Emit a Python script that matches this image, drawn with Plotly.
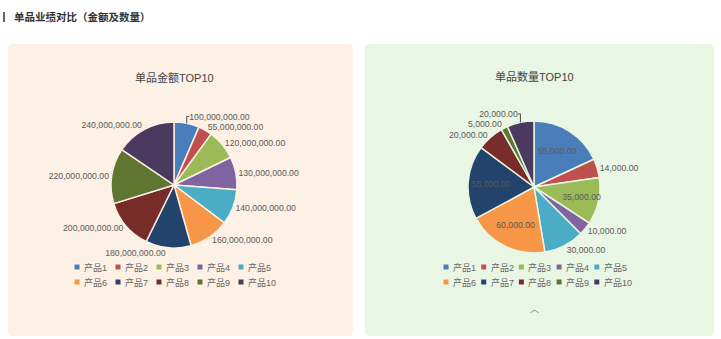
import plotly.graph_objects as go

# ---- data ----
products = ["产品1", "产品2", "产品3", "产品4", "产品5", "产品6", "产品7", "产品8", "产品9", "产品10"]
amount_values = [100000000, 55000000, 120000000, 130000000, 140000000,
                 160000000, 180000000, 200000000, 220000000, 240000000]
quantity_values = [55000, 14000, 35000, 10000, 30000, 60000, 55000, 20000, 5000, 20000]
quantity_textpos = ["inside", "outside", "inside", "outside", "outside",
                    "inside", "inside", "outside", "outside", "outside"]
colors = ["#4a7ebb", "#c0504d", "#9bbb59", "#8064a2", "#4bacc6",
          "#f79646", "#22436b", "#772c2a", "#5f7530", "#4a3a60"]

page_title = "单品业绩对比（金额及数量）"
left_title = "单品金额TOP10"
right_title = "单品数量TOP10"

W, H = 721, 339
LEFT_BG = "#fdf0e4"
RIGHT_BG = "#eaf6e4"
TXT = "#5a5a5a"
FONT = "Liberation Sans, Noto Sans CJK SC, sans-serif"
LBL = 8.7


def px(x):
    return x / W


def py(y):
    return 1 - y / H


def rounded_rect(x0, y0, x1, y1, r):
    return (f"M{px(x0 + r)},{py(y0)} L{px(x1 - r)},{py(y0)} "
            f"Q{px(x1)},{py(y0)} {px(x1)},{py(y0 + r)} "
            f"L{px(x1)},{py(y1 - r)} Q{px(x1)},{py(y1)} {px(x1 - r)},{py(y1)} "
            f"L{px(x0 + r)},{py(y1)} Q{px(x0)},{py(y1)} {px(x0)},{py(y1 - r)} "
            f"L{px(x0)},{py(y0 + r)} Q{px(x0)},{py(y0)} {px(x0 + r)},{py(y0)} Z")


fig = go.Figure()

fig.add_trace(go.Pie(
    labels=products, values=amount_values, sort=False, direction="clockwise",
    marker=dict(colors=colors, line=dict(color=LEFT_BG, width=1.5)),
    texttemplate="%{value:,.2f}", textposition="outside",
    textfont=dict(size=LBL, color=TXT, family=FONT),
    domain=dict(x=[px(111), px(237)], y=[py(248), py(122)]),
    showlegend=False, hoverinfo="label+value",
))

fig.add_trace(go.Pie(
    labels=products, values=quantity_values, sort=False, direction="clockwise",
    marker=dict(colors=colors, line=dict(color=RIGHT_BG, width=1.5)),
    texttemplate="%{value:,.2f}", textposition=quantity_textpos,
    insidetextorientation="horizontal",
    textfont=dict(size=LBL, color=TXT, family=FONT),
    insidetextfont=dict(size=LBL, color=TXT, family=FONT),
    outsidetextfont=dict(size=LBL, color=TXT, family=FONT),
    domain=dict(x=[px(468), px(600)], y=[py(253), py(121)]),
    showlegend=False, hoverinfo="label+value",
))

shapes = [
    dict(type="path", path=rounded_rect(8, 44, 353, 336, 5), xref="paper", yref="paper",
         fillcolor=LEFT_BG, line=dict(width=0), layer="below"),
    dict(type="path", path=rounded_rect(365, 44, 714, 336, 5), xref="paper", yref="paper",
         fillcolor=RIGHT_BG, line=dict(width=0), layer="below"),
    dict(type="rect", x0=px(3), x1=px(5), y0=py(22), y1=py(12), xref="paper", yref="paper",
         fillcolor="#666666", line=dict(width=0)),
]

annotations = [
    dict(text=f"<b>{page_title}</b>", x=px(12), y=py(17), xref="paper", yref="paper",
         xanchor="left", yanchor="middle", showarrow=False,
         font=dict(size=10.5, color="#333333", family=FONT)),
    dict(text=left_title, x=px(174), y=py(77), xref="paper", yref="paper",
         xanchor="center", yanchor="middle", showarrow=False,
         font=dict(size=11, color="#444444", family=FONT)),
    dict(text=right_title, x=px(534), y=py(77), xref="paper", yref="paper",
         xanchor="center", yanchor="middle", showarrow=False,
         font=dict(size=11, color="#444444", family=FONT)),
    dict(text="︿", x=px(534), y=py(309), xref="paper", yref="paper",
         xanchor="center", yanchor="middle", showarrow=False,
         font=dict(size=9, color="#777777", family=FONT)),
]

# custom legends (two rows of five)
for start_x, step in [(77, 41), (446, 37.7)]:
    for i, (name, c) in enumerate(zip(products, colors)):
        cx = start_x + (i % 5) * step
        cy = 267 if i < 5 else 282
        shapes.append(dict(type="rect", x0=px(cx - 2.5), x1=px(cx + 2.5),
                           y0=py(cy + 2.5), y1=py(cy - 2.5), xref="paper", yref="paper",
                           fillcolor=c, line=dict(width=0)))
        annotations.append(dict(text=name, x=px(cx + 5), y=py(cy), xref="paper", yref="paper",
                                xanchor="left", yanchor="middle", showarrow=False,
                                font=dict(size=9, color="#666666", family=FONT)))

fig.update_layout(
    width=W, height=H, margin=dict(l=0, r=0, t=0, b=0),
    paper_bgcolor="white", plot_bgcolor="white",
    shapes=shapes, annotations=annotations,
    font=dict(family=FONT),
    uniformtext=dict(minsize=LBL, mode="show"),
)

fig.write_html("out.html")
